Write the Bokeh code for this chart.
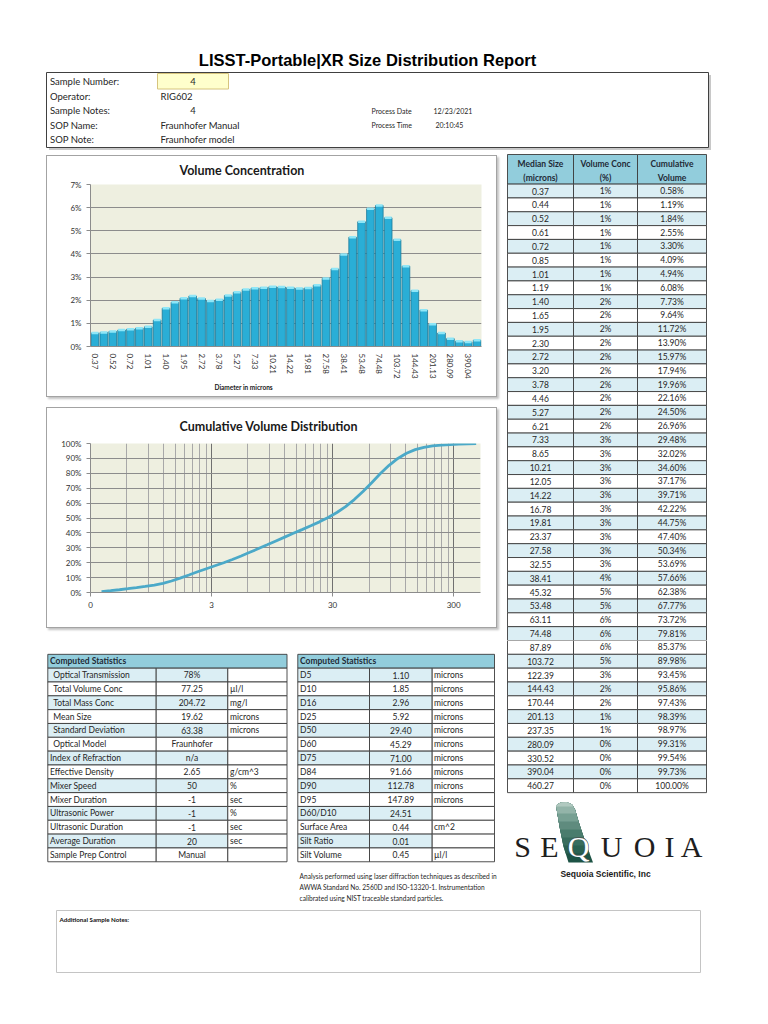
import math
from bokeh.plotting import figure
from bokeh.models import Range1d, FixedTicker, CustomJSTickFormatter, Spacer, Title
from bokeh.layouts import row, column
from bokeh.embed import file_html
from bokeh.resources import INLINE
from bokeh.core.properties import value

# ---------------- data ----------------
report_title = "LISST-Portable|XR Size Distribution Report"
header_labels = ["Sample Number:", "Operator:", "Sample Notes:", "SOP Name:", "SOP Note:"]
header_values = ["4", "RIG602", "4", "Fraunhofer Manual", "Fraunhofer model"]
process_labels = ["Process Date", "Process Time"]
process_values = ["12/23/2021", "20:10:45"]

size_labels = ["0.37", "0.44", "0.52", "0.61", "0.72", "0.85", "1.01", "1.19", "1.40", "1.65",
               "1.95", "2.30", "2.72", "3.20", "3.78", "4.46", "5.27", "6.21", "7.33", "8.65",
               "10.21", "12.05", "14.22", "16.78", "19.81", "23.37", "27.58", "32.55", "38.41", "45.32",
               "53.48", "63.11", "74.48", "87.89", "103.72", "122.39", "144.43", "170.44", "201.13", "237.35",
               "280.09", "330.52", "390.04", "460.27"]
vol_conc = [0.58, 0.61, 0.65, 0.71, 0.75, 0.79, 0.85, 1.14, 1.65, 1.91,
            2.08, 2.18, 2.07, 1.97, 2.02, 2.20, 2.34, 2.46, 2.52, 2.54,
            2.58, 2.57, 2.54, 2.51, 2.53, 2.65, 2.94, 3.35, 3.97, 4.72,
            5.39, 5.95, 6.09, 5.56, 4.61, 3.47, 2.41, 1.57, 0.96, 0.58,
            0.34, 0.23, 0.19, 0.27]
vol_pct = [1, 1, 1, 1, 1, 1, 1, 1, 2, 2,
           2, 2, 2, 2, 2, 2, 2, 2, 3, 3,
           3, 3, 3, 3, 3, 3, 3, 3, 4, 5,
           5, 6, 6, 6, 5, 3, 2, 2, 1, 1,
           0, 0, 0, 0]
cumulative = [0.58, 1.19, 1.84, 2.55, 3.30, 4.09, 4.94, 6.08, 7.73, 9.64,
              11.72, 13.90, 15.97, 17.94, 19.96, 22.16, 24.50, 26.96, 29.48, 32.02,
              34.60, 37.17, 39.71, 42.22, 44.75, 47.40, 50.34, 53.69, 57.66, 62.38,
              67.77, 73.72, 79.81, 85.37, 89.98, 93.45, 95.86, 97.43, 98.39, 98.97,
              99.31, 99.54, 99.73, 100.00]
sizes = [float(s) for s in size_labels]
bar_index = list(range(len(size_labels)))

size_table_header = [["Median Size", "(microns)"], ["Volume Conc", "(%)"], ["Cumulative", "Volume"]]

stats1_labels = [" Optical Transmission", " Total Volume Conc", " Total Mass Conc", " Mean Size",
                 " Standard Deviation", " Optical Model", "Index of Refraction", "Effective Density",
                 "Mixer Speed", "Mixer Duration", "Ultrasonic Power", "Ultrasonic Duration",
                 "Average Duration", "Sample Prep Control"]
stats1_values = ["78%", "77.25", "204.72", "19.62", "63.38", "Fraunhofer", "n/a", "2.65",
                 "50", "-1", "-1", "-1", "20", "Manual"]
stats1_units = ["", "\u00b5l/l", "mg/l", "microns", "microns", "", "", "g/cm^3",
                "%", "sec", "%", "sec", "sec", ""]

stats2_labels = ["D5", "D10", "D16", "D25", "D50", "D60", "D75", "D84", "D90", "D95",
                 "D60/D10", "Surface Area", "Silt Ratio", "Silt Volume"]
stats2_values = ["1.10", "1.85", "2.96", "5.92", "29.40", "45.29", "71.00", "91.66", "112.78", "147.89",
                 "24.51", "0.44", "0.01", "0.45"]
stats2_units = ["microns"] * 10 + ["", "cm^2", "", "\u00b5l/l"]

stats_title = "Computed Statistics"
analysis_lines = ["Analysis performed using laser diffraction techniques as described in",
                  "AWWA Standard No. 2560D and ISO-13320-1.  Instrumentation",
                  "calibrated using NIST traceable standard particles."]
logo_letters = ["S", "E", "Q", "U", "O", "I", "A"]
company = "Sequoia Scientific, Inc"
notes_title = "Additional Sample Notes:"

# ---------------- styles ----------------
FONT = "Lato"
TXT = "#262626"
HEAD_FILL = "#92cddc"
ROW_FILL = "#dbeef4"
GRID_LINE = "#3c3c3c"
BOX_STYLE = {"border": "1px solid #a3a3a3", "box-shadow": "2px 2px 2px #c4c4c4", "box-sizing": "border-box"}


def canvas_fig(x0, x1, y0, y1):
    p = figure(width=x1 - x0, height=y1 - y0, x_range=Range1d(x0, x1), y_range=Range1d(y1, y0),
               output_backend="svg", toolbar_location=None, min_border=0,
               x_axis_location=None, y_axis_location=None)
    p.grid.visible = False
    p.outline_line_color = None
    p.background_fill_color = "white"
    p.border_fill_color = "white"
    return p


def txt(p, x, y, t, size="8.5px", align="left", bold=False, color=TXT, font=FONT):
    p.text(x=x, y=y, text=t, text_font=value(font), text_font_size=size,
           text_font_style="bold" if bold else "normal", text_align=align,
           text_baseline="middle", text_color=color)


def style_axis(ax):
    ax.axis_line_color = "#8c8c8c"
    ax.major_tick_line_color = "#8c8c8c"
    ax.major_tick_in = 0
    ax.major_tick_out = 4
    ax.minor_tick_line_color = None
    ax.major_label_text_font = FONT
    ax.major_label_text_font_size = "8px"
    ax.major_label_text_color = "#333333"


def style_title(t, standoff):
    t.align = "left"
    t.vertical_align = "top"
    t.offset = 89
    t.standoff = standoff
    t.text_font = FONT
    t.text_font_size = "12.5px"
    t.text_font_style = "bold"
    t.text_color = "#1a1a1a"


# ---------------- header ----------------
hdr = canvas_fig(0, 760, 0, 150)
txt(hdr, [367], [59], [report_title], size="16.5px", align="center", bold=True, color="black",
    font="Liberation Sans")
hdr.quad(left=[48.5], right=[710.5], top=[74.5], bottom=[149.5], fill_color="#c8c8c8", line_color=None)
hdr.quad(left=[46], right=[708], top=[72], bottom=[147], fill_color="white", line_color="#404040", line_width=1)
hdr.quad(left=[157], right=[228], top=[73], bottom=[88.5], fill_color="#ffffcc", line_color="#d6c47e", line_width=1)
hdr_y = [80.5, 96, 110, 124.5, 139]
txt(hdr, [49.5] * 5, hdr_y, header_labels, size="9.5px")
hdr_val_x = [192.5, 160, 192.5, 160, 160]
hdr_val_align = ["center", "left", "center", "left", "left"]
for xv, yv, tv, al in zip(hdr_val_x, hdr_y, header_values, hdr_val_align):
    txt(hdr, [xv], [yv], [tv], size="9.5px", align=al)
txt(hdr, [371, 371], [110, 124.5], process_labels, size="7px")
txt(hdr, [433, 435], [110, 124.5], process_values, size="7px")

# ---------------- volume concentration bar chart ----------------
bar = figure(width=451, height=242, x_range=Range1d(-0.5, len(size_labels) - 0.5), y_range=Range1d(0, 7),
             output_backend="svg", toolbar_location=None, styles=BOX_STYLE,
             min_border_left=43, min_border_right=17, min_border_top=28, min_border_bottom=52)
bar.background_fill_color = "#eeefe0"
bar.border_fill_color = "white"
bar.outline_line_color = None
bar.vbar(x=bar_index, top=vol_conc, width=0.86, fill_color="#2aaed6", line_color="#1b7a9b", line_width=0.8)
bar.rect(x=bar_index, y=vol_conc, width=0.78, height=2.5, height_units="screen",
         fill_color="#8fe6f7", line_color=None)
bar.ygrid.grid_line_color = "#8c8c8c"
bar.xgrid.grid_line_color = None
bar.yaxis.ticker = FixedTicker(ticks=list(range(0, 8)))
bar.yaxis.formatter = CustomJSTickFormatter(code="return tick.toFixed(0) + '%';")
bar.xaxis.ticker = FixedTicker(ticks=bar_index[::2])
bar.xaxis.major_label_overrides = {i: size_labels[i] for i in bar_index[::2]}
bar.xaxis.major_label_orientation = "vertical"
style_axis(bar.xaxis)
style_axis(bar.yaxis)
bar.xaxis.major_tick_line_color = None
bar.xaxis.major_label_standoff = 3
bar.title.text = "Volume Concentration"
style_title(bar.title, 9)
bar.add_layout(Title(text="Diameter in microns", align="left", offset=124, standoff=0,
                     text_font=FONT, text_font_size="6.5px", text_font_style="bold",
                     text_color="#1a1a1a"), "below")

# ---------------- cumulative chart ----------------
cum = figure(width=451, height=221, x_axis_type="log", x_range=Range1d(0.3, 500), y_range=Range1d(0, 100),
             output_backend="svg", toolbar_location=None, styles=BOX_STYLE,
             min_border_left=43, min_border_right=18, min_border_top=35, min_border_bottom=37)
cum.background_fill_color = "#eeefe0"
cum.border_fill_color = "white"
cum.outline_line_color = None
minor = [k * 0.3 * 10 ** e for e in range(0, 4) for k in range(2, 10) if k * 0.3 * 10 ** e < 500]
cum.xaxis.ticker = FixedTicker(ticks=[0.3, 3, 30, 300], minor_ticks=minor)
cum.xaxis.formatter = CustomJSTickFormatter(code="return Math.round(tick).toString();")
cum.yaxis.ticker = FixedTicker(ticks=list(range(0, 101, 10)))
cum.yaxis.formatter = CustomJSTickFormatter(code="return tick.toFixed(0) + '%';")
cum.xgrid.grid_line_color = "#707070"
cum.xgrid.minor_grid_line_color = "#a8a8a8"
cum.ygrid.grid_line_color = "#8c8c8c"
style_axis(cum.xaxis)
style_axis(cum.yaxis)
cum.xaxis.major_label_standoff = 5
cum.line(x=sizes, y=cumulative, line_width=2.8, line_color="#4ba9c8")
cum.title.text = "Cumulative Volume Distribution"
style_title(cum.title, 16)

# ---------------- size table ----------------
ROW_H = 13.83


def row_top(i):
    return 640 + ROW_H * (i - 33)


SIZE_COLS = [507, 573, 637, 706]


def draw_size_rows(p, rows):
    for i in rows:
        t, b = row_top(i), row_top(i) + ROW_H
        fill = ROW_FILL if i % 2 == 0 else "white"
        p.quad(left=SIZE_COLS[:-1], right=SIZE_COLS[1:], top=[t] * 3, bottom=[b] * 3,
               fill_color=fill, line_color=GRID_LINE, line_width=0.9)
        yc = t + ROW_H / 2
        cx = [(SIZE_COLS[k] + SIZE_COLS[k + 1]) / 2 for k in range(3)]
        txt(p, cx, [yc] * 3, [size_labels[i], "%d%%" % vol_pct[i], "%.2f%%" % cumulative[i]],
            size="8.5px", align="center")


rtop = canvas_fig(502, 760, 150, 640)
rtop.quad(left=SIZE_COLS[:-1], right=SIZE_COLS[1:], top=[154] * 3, bottom=[row_top(0)] * 3,
          fill_color=HEAD_FILL, line_color=GRID_LINE, line_width=0.9)
for k in range(3):
    cx = (SIZE_COLS[k] + SIZE_COLS[k + 1]) / 2
    txt(rtop, [cx, cx], [163.5, 177], size_table_header[k], size="8.5px", align="center", bold=True,
        color="#1f2a36")
draw_size_rows(rtop, range(0, 33))

# ---------------- bottom section ----------------
bot = canvas_fig(0, 760, 640, 1016)
draw_size_rows(bot, range(33, len(size_labels)))


def draw_stats(p, cols, labels, values, units, indent_x, unit_x):
    t0 = row_top(34)
    p.quad(left=[cols[0]], right=[cols[-1]], top=[t0], bottom=[t0 + ROW_H], fill_color=HEAD_FILL,
           line_color=GRID_LINE, line_width=0.9)
    txt(p, [cols[0] + 2.2], [t0 + ROW_H / 2], [stats_title], size="8.5px", bold=True, color="#1f2a36")
    for j in range(len(labels)):
        t = row_top(35 + j)
        fill = ROW_FILL if j % 2 == 0 else "white"
        p.quad(left=cols[:2], right=cols[1:3], top=[t] * 2, bottom=[t + ROW_H] * 2,
               fill_color=fill, line_color=GRID_LINE, line_width=0.9)
        p.quad(left=[cols[2]], right=[cols[3]], top=[t], bottom=[t + ROW_H],
               fill_color="white", line_color=GRID_LINE, line_width=0.9)
        yc = t + ROW_H / 2
        lab = labels[j]
        lx = cols[0] + (indent_x if lab.startswith(" ") else 2.2)
        txt(p, [lx], [yc], [lab.strip()], size="8.5px")
        txt(p, [(cols[1] + cols[2]) / 2], [yc], [values[j]], size="8.5px", align="center")
        txt(p, [unit_x], [yc], [units[j]], size="8.5px")


draw_stats(bot, [47.3, 155.7, 227.3, 286.5], stats1_labels, stats1_values, stats1_units, 5.4, 229.5)
draw_stats(bot, [297.3, 369, 431.7, 494], stats2_labels, stats2_values, stats2_units, 2.2, 433.5)

txt(bot, [299] * 3, [875, 886, 897], analysis_lines, size="6.6px")

# logo shape with stepped gradient
logo_poly = [(555.5, 805), (560, 802), (566, 801.5), (571.5, 804), (574.5, 809), (579, 824),
             (585, 842), (592.5, 862), (568, 862), (563, 846), (559, 826)]


def clip_top(poly, c):
    out = []
    n = len(poly)
    for i in range(n):
        (x1, y1), (x2, y2) = poly[i], poly[(i + 1) % n]
        in1, in2 = y1 <= c, y2 <= c
        if in1:
            out.append((x1, y1))
        if in1 != in2:
            tt = (c - y1) / (y2 - y1)
            out.append((x1 + tt * (x2 - x1), c))
    return out


shades = ["#1d5345", "#2a6151", "#386d5e", "#4a7c6d", "#5f8b7e", "#77a093", "#93b4a9", "#b1c9c0"]
cuts = [862, 853, 845, 837, 829, 821, 813, 806]
for c, col in zip(cuts, shades):
    poly = clip_top(logo_poly, c)
    bot.patch(x=[q[0] for q in poly], y=[q[1] for q in poly], fill_color=col, line_color=None)

LOGO_Y = 845.5
letter_x = [522, 549, 578, 611, 644, 669, 691]
for lx, lt in zip(letter_x, logo_letters):
    if lt == "Q":
        for dx, dy in [(-0.7, 0), (0.7, 0), (0, -0.7), (0, 0.7)]:
            bot.text(x=[lx + dx], y=[LOGO_Y + dy], text=[lt], text_font=value("Liberation Serif"),
                     text_font_size="30px", text_align="center", text_baseline="middle",
                     text_color="#4a5a55")
    bot.text(x=[lx], y=[LOGO_Y], text=[lt], text_font=value("Liberation Serif"), text_font_size="30px",
             text_align="center", text_baseline="middle",
             text_color="white" if lt == "Q" else "#1e1e1e")
txt(bot, [605], [873.5], [company], size="8.5px", align="center", bold=True, color="#1a1a1a",
    font="Liberation Sans")

bot.quad(left=[56], right=[700], top=[910], bottom=[972], fill_color="white", line_color="#c4c4c4", line_width=1)
txt(bot, [59], [918.5], [notes_title], size="6.2px", bold=True, color="#111111")

# ---------------- layout ----------------
left = column(
    Spacer(width=502, height=5),
    row(Spacer(width=46, height=242), bar, Spacer(width=5, height=242)),
    Spacer(width=502, height=10),
    row(Spacer(width=46, height=221), cum, Spacer(width=5, height=221)),
    Spacer(width=502, height=12),
)
mid = row(left, rtop)
page = column(hdr, mid, bot)

open("out.html", "w").write(file_html(page, INLINE, title="LISST-Portable|XR Size Distribution Report"))
